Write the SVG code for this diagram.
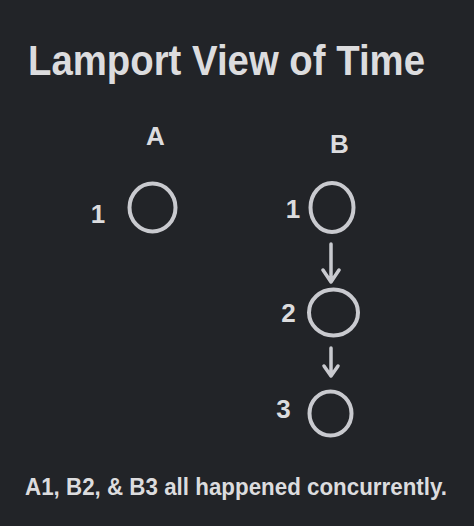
<svg xmlns="http://www.w3.org/2000/svg" width="474" height="526" viewBox="0 0 474 526">
<style>
.t{font-family:"Liberation Sans",Arial,sans-serif;font-weight:bold;fill:#dcdcde}
.c{fill:none;stroke:#c9cacf;stroke-width:4}
.a{fill:none;stroke:#c9cacf;stroke-width:3.5;stroke-linecap:round;stroke-linejoin:round}
</style>
<rect width="474" height="526" fill="#222428"/>
<g id="title"><text class="t" x="28" y="75" font-size="42" textLength="397" lengthAdjust="spacingAndGlyphs">Lamport View of Time</text></g>
<g id="labelA"><text class="t" x="155.5" y="145" font-size="26" text-anchor="middle">A</text></g>
<g id="labelB"><text class="t" x="339.5" y="153" font-size="26" text-anchor="middle">B</text></g>
<g id="A1"><ellipse class="c" cx="152.5" cy="207.5" rx="23" ry="24"/><text class="t" x="98" y="223" font-size="26" text-anchor="middle">1</text></g>
<g id="B1"><ellipse class="c" cx="332" cy="207.5" rx="21.5" ry="24.5"/><text class="t" x="293" y="218" font-size="26" text-anchor="middle">1</text></g>
<g id="B2"><ellipse class="c" cx="333.5" cy="312.5" rx="24.5" ry="23"/><text class="t" x="288.5" y="322" font-size="26" text-anchor="middle">2</text></g>
<g id="B3"><ellipse class="c" cx="330.5" cy="413.5" rx="21" ry="22"/><text class="t" x="283.5" y="418" font-size="26" text-anchor="middle">3</text></g>
<g id="connectors">
<path class="a" d="M331 244 V282 M323 270 L331 282 L339 270"/>
<path class="a" d="M331 348 V376 M324 366 L331 376 L338 366"/>
</g>
<g id="caption"><text class="t" x="25" y="495" font-size="23.5" textLength="422" lengthAdjust="spacingAndGlyphs">A1, B2, &amp; B3 all happened concurrently.</text></g>
</svg>
